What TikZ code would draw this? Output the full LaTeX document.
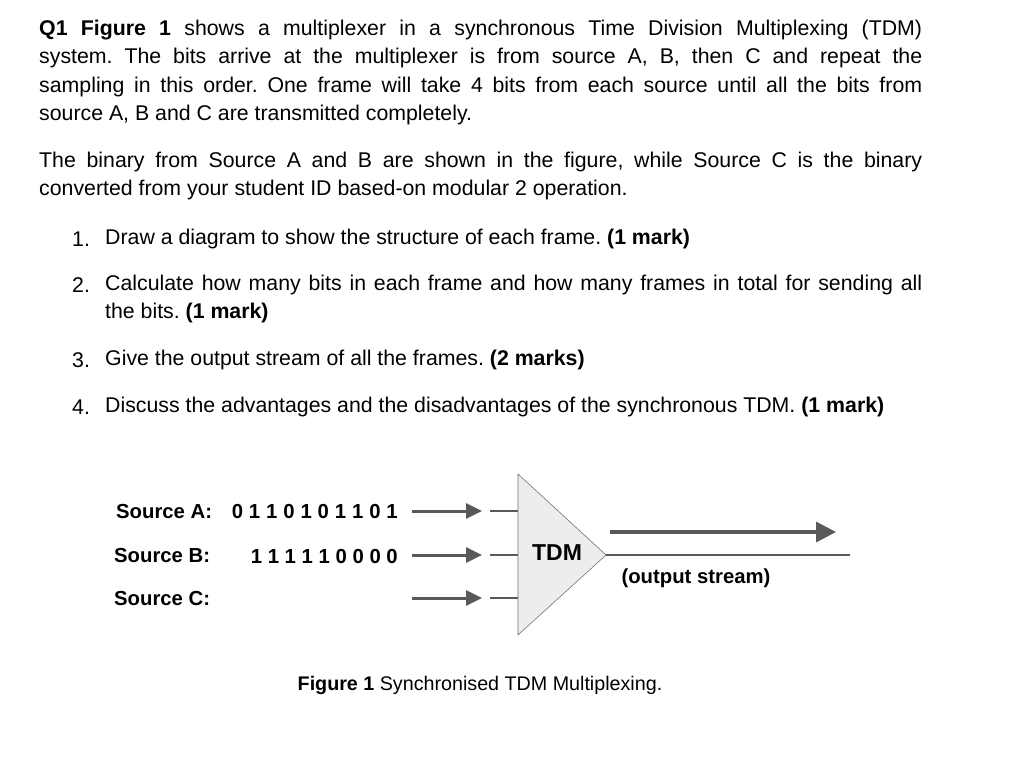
\documentclass[tikz,border=0pt]{standalone}
\usepackage{fontspec}
\setmainfont{Liberation Sans}
\usetikzlibrary{arrows.meta}
\frenchspacing
\newcommand{\jline}[1]{\makebox[883pt][s]{#1}}
\begin{document}
\begin{tikzpicture}[x=1pt,y=-1pt,
  txt/.style={anchor=west,inner sep=0pt,font=\fontsize{21.3}{24}\selectfont},
  fig/.style={inner sep=0pt,font=\fontsize{20.3}{23}\selectfont\bfseries},
  inarrow/.style={draw=black!65,line width=3pt,-{Triangle[length=16pt,width=15pt]}},
  stub/.style={draw=black!65,line width=2.4pt},
  outline/.style={draw=black!65,line width=2.2pt}]
\useasboundingbox (0,0) rectangle (1024,756);
\node[txt] (p1) at (39,30) {\jline{\textbf{Q1 Figure 1} shows a multiplexer in a synchronous Time Division Multiplexing (TDM)}};
\node[txt] (p2) at (39,58) {\jline{system. The bits arrive at the multiplexer is from source A, B, then C and repeat the}};
\node[txt] (p3) at (39,87) {\jline{sampling in this order. One frame will take 4 bits from each source until all the bits from}};
\node[txt] (p4) at (39,115) {source A, B and C are transmitted completely.};
\node[txt] (p5) at (39,162) {\jline{The binary from Source A and B are shown in the figure, while Source C is the binary}};
\node[txt] (p6) at (39,190) {converted from your student ID based-on modular 2 operation.};
\node[txt] (n1) at (72,239) {1.};
\node[txt] (l1) at (105,239) {Draw a diagram to show the structure of each frame. \textbf{(1 mark)}};
\node[txt] (n2) at (72,285) {2.};
\node[txt] (l2) at (105,285) {\makebox[817pt][s]{Calculate how many bits in each frame and how many frames in total for sending all}};
\node[txt] (l2b) at (105,313) {the bits. \textbf{(1 mark)}};
\node[txt] (n3) at (72,360) {3.};
\node[txt] (l3) at (105,360) {Give the output stream of all the frames. \textbf{(2 marks)}};
\node[txt] (n4) at (72,407) {4.};
\node[txt] (l4) at (105,407) {Discuss the advantages and the disadvantages of the synchronous TDM. \textbf{(1 mark)}};
% figure
\node[fig,anchor=west] (sa) at (116,511) {Source A:};
\node[fig,anchor=west] (sb) at (114,555) {Source B:};
\node[fig,anchor=west] (sc) at (114,598) {Source C:};
\node[fig,anchor=east] (ba) at (398,511) {\makebox[166pt][s]{0 1 1 0 1 0 1 1 0 1}};
\node[fig,anchor=east] (bb) at (398,556) {\makebox[147pt][s]{1 1 1 1 1 0 0 0 0}};
\coordinate (a0) at (412,511); \coordinate (a1) at (482,511);
\coordinate (b0) at (412,555); \coordinate (b1) at (482,555);
\coordinate (c0) at (412,598); \coordinate (c1) at (482,598);
\draw[inarrow] (a0) -- (a1);
\draw[inarrow] (b0) -- (b1);
\draw[inarrow] (c0) -- (c1);
\coordinate (tt) at (518,474); \coordinate (tb) at (518,635); \coordinate (tip) at (606,555);
\draw[stub] (490,511) -- (518,511);
\draw[stub] (490,555) -- (518,555);
\draw[stub] (490,598) -- (518,598);
\draw[draw=black!55,fill=black!7,line width=0.6pt] (tt) -- (tip) -- (tb) -- cycle;
\node[fig,font=\fontsize{23}{26}\selectfont\bfseries] (tdm) at (557,553) {TDM};
\coordinate (oe) at (850,555);
\draw[outline] (tip) -- (oe);
\coordinate (o0) at (610,532); \coordinate (o1) at (836,532);
\draw[draw=black!65,line width=3.2pt,-{Triangle[length=20pt,width=20pt]}] (o0) -- (o1);
\node[fig] (os) at (696,578) {(output stream)};
\node[inner sep=0pt,font=\fontsize{19.7}{22}\selectfont] (cap) at (480,685) {\textbf{Figure 1} Synchronised TDM Multiplexing.};
\end{tikzpicture}
\end{document}
